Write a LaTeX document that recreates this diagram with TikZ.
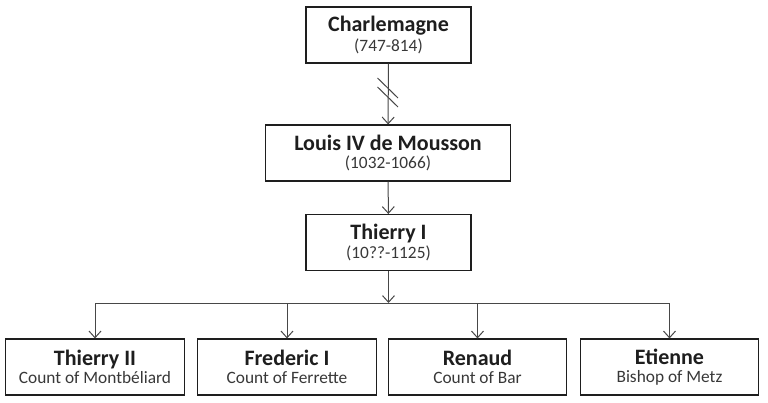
\documentclass[tikz,border=0pt]{standalone}
\usepackage{fontspec}
\setmainfont{Carlito}
\usetikzlibrary{arrows.meta}
\definecolor{ink}{HTML}{1E1E1E}
\definecolor{subink}{HTML}{383838}
\definecolor{wire}{HTML}{474747}
\tikzset{
  person/.style={draw=ink, line width=0.8pt, fill=white, inner sep=0pt, align=center, text=ink},
  wide/.style={person, minimum width=183.75pt, minimum height=42pt},
  mid/.style={person, minimum width=123.75pt, minimum height=42pt},
  kid/.style={person, minimum width=134pt, minimum height=42pt},
  link/.style={draw=wire, line width=0.75pt, -{Straight Barb[length=5pt, width=9pt, line width=0.75pt]}},
  plain/.style={draw=wire, line width=0.75pt},
}
\newcommand{\pname}[1]{{\fontsize{16.5}{19}\selectfont\bfseries #1}}
\newcommand{\psub}[1]{{\fontsize{13}{16}\selectfont\color{subink}#1}}
\begin{document}
\begin{tikzpicture}[x=0.75pt, y=-0.75pt]
\useasboundingbox (0,0) rectangle (768,403);
\node[mid] (ch) at (388.5,35) {\pname{Charlemagne}\\[1pt]\psub{(747-814)}};
\node[wide] (lo) at (388,153) {\pname{Louis IV de Mousson}\\[1pt]\psub{(1032-1066)}};
\node[mid] (th) at (388.5,242.5) {\pname{Thierry I}\\[1pt]\psub{(10??-1125)}};
\node[kid] (k1) at (95,367) {\pname{Thierry II}\\[1pt]\psub{Count of Montbéliard}};
\node[kid] (k2) at (287,367) {\pname{Frederic I}\\[1pt]\psub{Count of Ferrette}};
\node[kid] (k3) at (477.5,367) {\pname{Renaud}\\[1pt]\psub{Count of Bar}};
\node[kid] (k4) at (669.5,367) {\pname{Etienne}\\[1pt]\psub{Bishop of Metz}};
\coordinate (bus) at (0,303);
% Charlemagne to Louis, with break mark
\draw[link] (ch) -- (lo);
\coordinate (s1a) at (377.5,78);
\coordinate (s1b) at (398,98);
\coordinate (s2a) at (377.5,87);
\coordinate (s2b) at (398,107);
\draw[plain] (s1a) -- (s1b);
\draw[plain] (s2a) -- (s2b);
% Louis to Thierry I
\draw[link] (lo) -- (th);
% Thierry I to children
\draw[link] (th.south) -- (th.south |- bus);
\draw[plain] (k1.north |- bus) -- (k4.north |- bus);
\foreach \k in {k1,k2,k3,k4} \draw[link] (\k.north |- bus) -- (\k.north);
\end{tikzpicture}
\end{document}
